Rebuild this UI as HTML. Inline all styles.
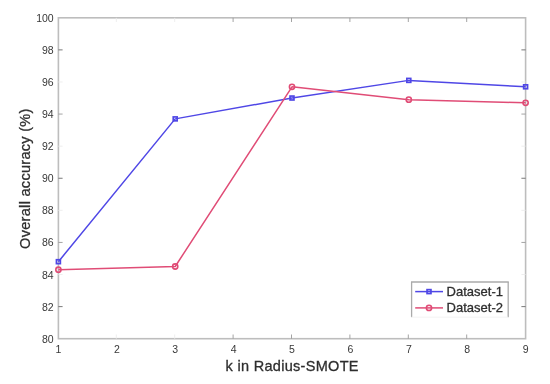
<!DOCTYPE html>
<html><head><meta charset="utf-8"><title>Overall accuracy vs k in Radius-SMOTE</title>
<style>
html,body{margin:0;padding:0;background:#fff;}
body{width:550px;height:384px;overflow:hidden;}
svg{display:block;filter:blur(0.5px);}
text{font-family:"Liberation Sans",Arial,sans-serif;fill:#2e2e2e;stroke:#2e2e2e;stroke-width:0.3px;}
.t{font-size:10.5px;fill:#383838;stroke:none;}
.l{font-size:14.5px;letter-spacing:0.3px;}
.g{font-size:13px;}
</style></head>
<body>
<svg width="550" height="384" viewBox="0 0 550 384">
<rect x="58.40" y="17.80" width="467.20" height="320.90" fill="none" stroke="#bdbdbd" stroke-width="1.6"/>
<text x="53.7" y="342.70" text-anchor="end" class="t">80</text>
<line x1="58.40" y1="306.61" x2="62.60" y2="306.61" stroke="#6a6a6a" stroke-width="0.9"/>
<line x1="525.60" y1="306.61" x2="521.40" y2="306.61" stroke="#6a6a6a" stroke-width="0.9"/>
<text x="53.7" y="310.61" text-anchor="end" class="t">82</text>
<line x1="58.40" y1="274.52" x2="62.60" y2="274.52" stroke="#ececec" stroke-width="0.9"/>
<line x1="525.60" y1="274.52" x2="521.40" y2="274.52" stroke="#ececec" stroke-width="0.9"/>
<text x="53.7" y="278.52" text-anchor="end" class="t">84</text>
<line x1="58.40" y1="242.43" x2="62.60" y2="242.43" stroke="#9a9a9a" stroke-width="0.9"/>
<line x1="525.60" y1="242.43" x2="521.40" y2="242.43" stroke="#9a9a9a" stroke-width="0.9"/>
<text x="53.7" y="246.43" text-anchor="end" class="t">86</text>
<line x1="58.40" y1="210.34" x2="62.60" y2="210.34" stroke="#ececec" stroke-width="0.9"/>
<line x1="525.60" y1="210.34" x2="521.40" y2="210.34" stroke="#ececec" stroke-width="0.9"/>
<text x="53.7" y="214.34" text-anchor="end" class="t">88</text>
<line x1="58.40" y1="178.25" x2="62.60" y2="178.25" stroke="#6a6a6a" stroke-width="0.9"/>
<line x1="525.60" y1="178.25" x2="521.40" y2="178.25" stroke="#6a6a6a" stroke-width="0.9"/>
<text x="53.7" y="182.25" text-anchor="end" class="t">90</text>
<line x1="58.40" y1="146.16" x2="62.60" y2="146.16" stroke="#ececec" stroke-width="0.9"/>
<line x1="525.60" y1="146.16" x2="521.40" y2="146.16" stroke="#ececec" stroke-width="0.9"/>
<text x="53.7" y="150.16" text-anchor="end" class="t">92</text>
<line x1="58.40" y1="114.07" x2="62.60" y2="114.07" stroke="#9a9a9a" stroke-width="0.9"/>
<line x1="525.60" y1="114.07" x2="521.40" y2="114.07" stroke="#9a9a9a" stroke-width="0.9"/>
<text x="53.7" y="118.07" text-anchor="end" class="t">94</text>
<line x1="58.40" y1="81.98" x2="62.60" y2="81.98" stroke="#ececec" stroke-width="0.9"/>
<line x1="525.60" y1="81.98" x2="521.40" y2="81.98" stroke="#ececec" stroke-width="0.9"/>
<text x="53.7" y="85.98" text-anchor="end" class="t">96</text>
<line x1="58.40" y1="49.89" x2="62.60" y2="49.89" stroke="#6a6a6a" stroke-width="0.9"/>
<line x1="525.60" y1="49.89" x2="521.40" y2="49.89" stroke="#6a6a6a" stroke-width="0.9"/>
<text x="53.7" y="53.89" text-anchor="end" class="t">98</text>
<text x="53.7" y="21.80" text-anchor="end" class="t">100</text>
<text x="58.40" y="352.8" text-anchor="middle" class="t">1</text>
<line x1="116.30" y1="338.70" x2="116.30" y2="334.50" stroke="#ececec" stroke-width="0.9"/>
<line x1="116.30" y1="17.80" x2="116.30" y2="22.00" stroke="#ececec" stroke-width="0.9"/>
<text x="116.80" y="352.8" text-anchor="middle" class="t">2</text>
<line x1="174.70" y1="338.70" x2="174.70" y2="334.50" stroke="#ececec" stroke-width="0.9"/>
<line x1="174.70" y1="17.80" x2="174.70" y2="22.00" stroke="#ececec" stroke-width="0.9"/>
<text x="175.20" y="352.8" text-anchor="middle" class="t">3</text>
<line x1="233.10" y1="338.70" x2="233.10" y2="334.50" stroke="#9a9a9a" stroke-width="0.9"/>
<line x1="233.10" y1="17.80" x2="233.10" y2="22.00" stroke="#9a9a9a" stroke-width="0.9"/>
<text x="233.60" y="352.8" text-anchor="middle" class="t">4</text>
<line x1="291.50" y1="338.70" x2="291.50" y2="334.50" stroke="#9a9a9a" stroke-width="0.9"/>
<line x1="291.50" y1="17.80" x2="291.50" y2="22.00" stroke="#9a9a9a" stroke-width="0.9"/>
<text x="292.00" y="352.8" text-anchor="middle" class="t">5</text>
<line x1="349.90" y1="338.70" x2="349.90" y2="334.50" stroke="#9a9a9a" stroke-width="0.9"/>
<line x1="349.90" y1="17.80" x2="349.90" y2="22.00" stroke="#9a9a9a" stroke-width="0.9"/>
<text x="350.40" y="352.8" text-anchor="middle" class="t">6</text>
<line x1="408.30" y1="338.70" x2="408.30" y2="334.50" stroke="#9a9a9a" stroke-width="0.9"/>
<line x1="408.30" y1="17.80" x2="408.30" y2="22.00" stroke="#9a9a9a" stroke-width="0.9"/>
<text x="408.80" y="352.8" text-anchor="middle" class="t">7</text>
<line x1="466.70" y1="338.70" x2="466.70" y2="334.50" stroke="#9a9a9a" stroke-width="0.9"/>
<line x1="466.70" y1="17.80" x2="466.70" y2="22.00" stroke="#9a9a9a" stroke-width="0.9"/>
<text x="467.20" y="352.8" text-anchor="middle" class="t">8</text>
<text x="525.60" y="352.8" text-anchor="middle" class="t">9</text>
<polyline points="58.40,261.68 175.20,118.88 292.00,98.02 408.80,80.38 525.60,86.79" fill="none" stroke="#4f47e6" stroke-width="1.5" stroke-linejoin="round"/>
<polyline points="58.40,269.71 175.20,266.50 292.00,86.79 408.80,99.63 525.60,102.84" fill="none" stroke="#e04c76" stroke-width="1.5" stroke-linejoin="round"/>
<rect x="56.45" y="259.73" width="3.9" height="3.9" fill="none" stroke="#4f47e6" stroke-width="1.7"/>
<rect x="173.25" y="116.93" width="3.9" height="3.9" fill="none" stroke="#4f47e6" stroke-width="1.7"/>
<rect x="290.05" y="96.07" width="3.9" height="3.9" fill="none" stroke="#4f47e6" stroke-width="1.7"/>
<rect x="406.85" y="78.43" width="3.9" height="3.9" fill="none" stroke="#4f47e6" stroke-width="1.7"/>
<rect x="523.65" y="84.84" width="3.9" height="3.9" fill="none" stroke="#4f47e6" stroke-width="1.7"/>
<circle cx="58.40" cy="269.71" r="2.6" fill="none" stroke="#e04c76" stroke-width="1.6"/>
<circle cx="175.20" cy="266.50" r="2.6" fill="none" stroke="#e04c76" stroke-width="1.6"/>
<circle cx="292.00" cy="86.79" r="2.6" fill="none" stroke="#e04c76" stroke-width="1.6"/>
<circle cx="408.80" cy="99.63" r="2.6" fill="none" stroke="#e04c76" stroke-width="1.6"/>
<circle cx="525.60" cy="102.84" r="2.6" fill="none" stroke="#e04c76" stroke-width="1.6"/>
<text x="292.2" y="370.6" text-anchor="middle" class="l">k in Radius-SMOTE</text>
<text transform="translate(29.9,178.6) rotate(-90)" text-anchor="middle" class="l">Overall accuracy (%)</text>
<rect x="411.6" y="282.0" width="96.60" height="35.20" fill="#fff" stroke="none"/>
<line x1="411.0" y1="282.0" x2="508.8" y2="282.0" stroke="#aaaaaa" stroke-width="1.3"/>
<line x1="411.6" y1="282.0" x2="411.6" y2="317.2" stroke="#aaaaaa" stroke-width="1.3"/>
<line x1="508.2" y1="282.0" x2="508.2" y2="317.2" stroke="#aaaaaa" stroke-width="1.3"/>
<line x1="411.6" y1="317.2" x2="508.2" y2="317.2" stroke="#f3f3f3" stroke-width="1"/>
<line x1="415.2" y1="291.6" x2="443" y2="291.6" stroke="#4f47e6" stroke-width="1.5"/>
<rect x="427.05" y="289.65" width="3.9" height="3.9" fill="none" stroke="#4f47e6" stroke-width="1.7"/>
<line x1="415.2" y1="307.9" x2="443" y2="307.9" stroke="#e04c76" stroke-width="1.5"/>
<circle cx="429" cy="307.9" r="2.6" fill="none" stroke="#e04c76" stroke-width="1.6"/>
<text x="446.6" y="296.20" class="g">Dataset-1</text>
<text x="446.6" y="311.90" class="g">Dataset-2</text>
</svg>
</body></html>
